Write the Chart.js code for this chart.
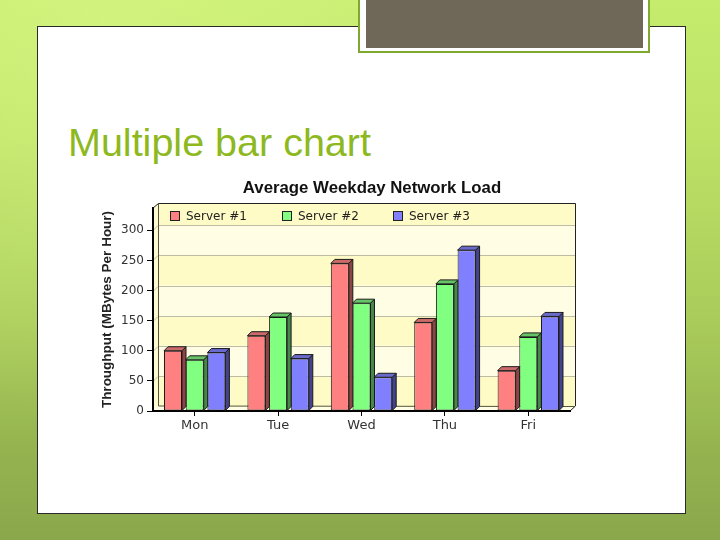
<!DOCTYPE html>
<html><head><meta charset="utf-8">
<script src="https://cdn.jsdelivr.net/npm/chart.js@4.4.1/dist/chart.umd.min.js"></script>
<style>
html,body{margin:0;padding:0;width:720px;height:540px;overflow:hidden}
body{position:relative;background:
 radial-gradient(ellipse at 15% 5%, rgba(220,250,140,0.55) 0%, rgba(220,250,140,0) 55%),
 linear-gradient(180deg,#c6ec6e 0%,#bde266 25%,#a9cb5a 60%,#93b24f 85%,#8aa84b 100%);}
#panel{position:absolute;left:37px;top:26px;width:647px;height:486px;background:#fff;border:1px solid #2a2a2a;}
#box{position:absolute;left:358px;top:-3px;width:292px;height:56px;box-sizing:border-box;background:#fff;border:2px solid #7fa830;}
#boxin{position:absolute;left:366px;top:0;width:277px;height:48px;background:#6f6859;}
#title{position:absolute;left:68px;top:123px;font:39.5px/39.5px "Liberation Sans",Arial,sans-serif;color:#8db91f;white-space:nowrap;}
#wrap{position:absolute;left:80px;top:172px;width:584px;height:268px;}
</style></head>
<body>
<div id="panel"></div>
<div id="box"></div><div id="boxin"></div>
<div id="title">Multiple bar chart</div>
<div id="wrap"><canvas id="c" width="584" height="268"></canvas></div>
<script>
const categories = ['Mon', 'Tue', 'Wed', 'Thu', 'Fri'];
const server1 = [100, 125, 245, 147, 67];
const server2 = [85, 156, 179, 211, 123];
const server3 = [97, 87, 56, 267, 157];
const seriesNames = ['Server #1', 'Server #2', 'Server #3'];
const yTicks = [0, 50, 100, 150, 200, 250, 300];
const chartTitle = 'Average Weekday Network Load';
const yTitle = 'Throughput (MBytes Per Hour)';

const faces = [
  {front: '#ff8080', side: '#8c4444', top: '#cc6a6a'},
  {front: '#80ff80', side: '#44884a', top: '#66c466'},
  {front: '#8080ff', side: '#44448c', top: '#6a6acc'}
];
const D = 5, BD = 4;

const wallPlugin = {
  id: 'wall',
  beforeDraw(chart) {
    const ctx = chart.ctx, a = chart.chartArea, ys = chart.scales.y;
    const L = a.left, R = a.right, T = a.top, B = a.bottom;
    ctx.save();
    const edges = yTicks.concat([ys.max]);
    for (let i = 0; i < edges.length - 1; i++) {
      const y0 = ys.getPixelForValue(edges[i]) - D;
      const y1 = ys.getPixelForValue(edges[i + 1]) - D;
      ctx.fillStyle = (i % 2 === 0) ? '#fffbc6' : '#fffee4';
      ctx.fillRect(L + D, y1, R - L, y0 - y1);
    }
    ctx.fillStyle = '#fffbd0';
    ctx.beginPath();
    ctx.moveTo(L, B); ctx.lineTo(L + D, B - D); ctx.lineTo(L + D, T - D); ctx.lineTo(L, T); ctx.closePath(); ctx.fill();
    ctx.fillStyle = '#fffde4';
    ctx.beginPath();
    ctx.moveTo(L, B); ctx.lineTo(R, B); ctx.lineTo(R + D, B - D); ctx.lineTo(L + D, B - D); ctx.closePath(); ctx.fill();
    ctx.strokeStyle = '#bdbca4'; ctx.lineWidth = 1;
    yTicks.forEach(v => {
      if (v === 0) return;
      const y = Math.round(ys.getPixelForValue(v) - D) + 0.5;
      ctx.beginPath(); ctx.moveTo(L + D, y); ctx.lineTo(R + D, y); ctx.stroke();
      ctx.beginPath(); ctx.moveTo(L, y + D); ctx.lineTo(L + D, y); ctx.stroke();
    });
    ctx.strokeStyle = '#222'; ctx.lineWidth = 1;
    ctx.beginPath();
    ctx.moveTo(L, T); ctx.lineTo(L + D + 0.5, T - D + 0.5); ctx.lineTo(R + D + 0.5, T - D + 0.5);
    ctx.lineTo(R + D + 0.5, B - D); ctx.lineTo(R, B);
    ctx.stroke();
    ctx.strokeStyle = '#55553a';
    ctx.beginPath(); ctx.moveTo(L + D + 0.5, T - D); ctx.lineTo(L + D + 0.5, B - D); ctx.lineTo(R + D, B - D + 0.5); ctx.stroke();
    // chart title, centred over the canvas
    ctx.fillStyle = '#111';
    ctx.font = 'bold 16.8px "Liberation Sans", Arial, sans-serif';
    ctx.textAlign = 'center'; ctx.textBaseline = 'middle';
    ctx.fillText(chartTitle, chart.width / 2, 16.5);
    ctx.restore();
  },
  afterDatasetsDraw(chart) {
    const ctx = chart.ctx;
    chart.data.datasets.forEach((ds, i) => {
      const meta = chart.getDatasetMeta(i);
      meta.data.forEach(bar => {
        const p = bar.getProps(['x', 'y', 'base', 'width'], true);
        const l = p.x - p.width / 2, r = p.x + p.width / 2, t = p.y, b = p.base;
        ctx.save();
        ctx.lineWidth = 1; ctx.strokeStyle = '#1a1a1a'; ctx.lineJoin = 'round';
        ctx.fillStyle = faces[i].side;
        ctx.beginPath();
        ctx.moveTo(r, t); ctx.lineTo(r + BD, t - BD); ctx.lineTo(r + BD, b - BD); ctx.lineTo(r, b); ctx.closePath();
        ctx.fill(); ctx.stroke();
        ctx.fillStyle = faces[i].top;
        ctx.beginPath();
        ctx.moveTo(l, t); ctx.lineTo(l + BD, t - BD); ctx.lineTo(r + BD, t - BD); ctx.lineTo(r, t); ctx.closePath();
        ctx.fill(); ctx.stroke();
        ctx.restore();
      });
    });
    const a = chart.chartArea;
    ctx.save();
    ctx.font = '12px "DejaVu Sans", sans-serif';
    ctx.textBaseline = 'middle';
    chart.data.datasets.forEach((ds, i) => {
      const bx = Math.round(a.left + 17 + i * 111.5), by = Math.round(a.top + 3);
      ctx.fillStyle = faces[i].front;
      ctx.fillRect(bx, by, 10, 10);
      ctx.strokeStyle = '#222'; ctx.lineWidth = 1;
      ctx.strokeRect(bx + 0.5, by + 0.5, 9, 9);
      ctx.fillStyle = '#222';
      ctx.fillText(ds.label, bx + 16, by + 5.5);
    });
    ctx.restore();
  }
};

const seriesData = [server1, server2, server3];
new Chart(document.getElementById('c'), {
  type: 'bar',
  data: {
    labels: categories,
    datasets: seriesData.map((d, i) => ({
      label: seriesNames[i],
      data: d,
      backgroundColor: faces[i].front,
      borderColor: '#1a1a1a',
      borderWidth: 1,
      borderSkipped: false,
      barPercentage: 0.83,
      categoryPercentage: 0.78
    }))
  },
  options: {
    responsive: false,
    animation: false,
    devicePixelRatio: 1,
    layout: {padding: {left: 0, right: 94, top: 36, bottom: 0}},
    plugins: {
      legend: {display: false},
      tooltip: {enabled: false},
      title: {display: false}
    },
    scales: {
      x: {
        offset: true, z: 1,
        grid: {display: true, drawOnChartArea: false, offset: false, tickLength: 5, tickColor: '#000', tickWidth: 1},
        border: {display: true, color: '#000', width: 2},
        ticks: {color: '#333', font: {family: '"DejaVu Sans", sans-serif', size: 13}, padding: 2},
        afterFit(s) { s.height = 29; }
      },
      y: {
        min: 0, max: 337,
        afterBuildTicks(s) { s.ticks = yTicks.map(v => ({value: v})); },
        grid: {display: true, drawOnChartArea: false, tickLength: 6, tickColor: '#000', tickWidth: 1},
        border: {display: true, color: '#000', width: 2},
        ticks: {color: '#333', font: {family: '"DejaVu Sans", sans-serif', size: 12}, padding: 3},
        title: {
          display: true, text: yTitle, color: '#222',
          font: {family: '"Liberation Sans", Arial, sans-serif', weight: 'bold', size: 13.5},
          padding: {top: 19, bottom: 0}
        },
        afterFit(s) { s.width = 73; }
      }
    }
  },
  plugins: [wallPlugin]
});
</script>
</body></html>
